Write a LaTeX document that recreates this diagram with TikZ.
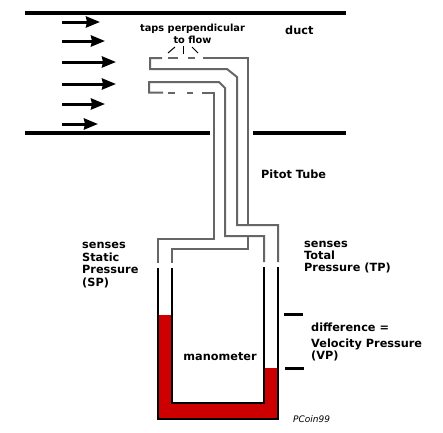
\documentclass[tikz,border=0pt]{standalone}
\usepackage{fontspec}
\setmainfont{DejaVu Sans}
\usetikzlibrary{arrows.meta}
\tikzset{
  duct/.style={line width=4pt,black},
  flow/.style={line width=3pt,black,-{Stealth[length=14pt,width=11pt,inset=1pt]}},
  tube/.style={line width=2pt,draw=black!60,line join=miter},
  tick/.style={line width=1pt,black},
  glass/.style={line width=2pt,black,line cap=butt},
  level/.style={line width=3pt,black},
  lab/.style={font=\bfseries\fontsize{11.3}{12.8}\selectfont,anchor=west,align=left,inner sep=0pt,text=black},
}
\begin{document}
\begin{tikzpicture}[x=1pt,y=-1pt]
\useasboundingbox[fill=white] (0,0) rectangle (443,432);
% duct
\draw[duct] (25,13) -- (346,13);
\draw[duct] (25,133) -- (210,133);
\draw[duct] (253,133) -- (346,133);
% flow arrows
\draw[flow] (62,22) -- (100,22);
\draw[flow] (62,41) -- (105,41);
\draw[flow] (62,62) -- (116,62);
\draw[flow] (62,84) -- (116,84);
\draw[flow] (62,104) -- (105,104);
\draw[flow] (62,124) -- (98,124);
% pitot tube, outer
\draw[tube] (162,58) -- (150,58) -- (150,69) -- (227,69) -- (237,77) -- (237,225) -- (278,225) -- (278,262);
\draw[tube] (203,58) -- (248,58) -- (248,225);
\draw[tube] (168,58) -- (178,58);
\draw[tube] (188,58) -- (195,58);
% pitot tube, inner
\draw[tube] (163,92.5) -- (149,92.5) -- (149,82) -- (219,82) -- (225,88) -- (225,236) -- (264,236) -- (264,262);
\draw[tube] (202,92.5) -- (214,92.5) -- (214,239) -- (158,239) -- (158,263);
\draw[tube] (168,92.5) -- (175,92.5);
\draw[tube] (187,92.5) -- (193,92.5);
\draw[tube] (248,236) -- (248,249) -- (172,249) -- (172,263);
% taps
\draw[tick] (168,53) -- (175,47);
\draw[tick] (183,46) -- (183,54);
\draw[tick] (192,47) -- (198,53);
% manometer fluid
\fill[fill={rgb,255:red,204;green,0;blue,0}] (158,315) -- (172,315) -- (172,403) -- (264,403) -- (264,368) -- (278,368) -- (278,419) -- (158,419) -- cycle;
% manometer glass
\draw[glass] (158,268) -- (158,419) -- (278,419) -- (278,267);
\draw[glass] (172,268) -- (172,403) -- (264,403) -- (264,267);
% level marks
\draw[level] (284,314) -- (303,314);
\draw[level] (285,368) -- (304,368);
% labels
\node[lab,anchor=center,align=center,font=\bfseries\fontsize{9.8}{12.5}\selectfont] (taps) at (192.5,34) {taps perpendicular\\to flow};
\node[lab] (ductlab) at (285,30) {duct};
\node[lab] (pitot) at (261,174) {Pitot Tube};
\node[lab] (static) at (82,265) {senses\\Static\\Pressure\\(SP)};
\node[lab,font=\bfseries\fontsize{11.3}{12.2}\selectfont] (total) at (304,257) {senses\\Total\\Pressure (TP)};
\node[lab] (diff) at (311,327) {difference =};
\node[lab] (vp) at (311,350) {Velocity Pressure\\(VP)};
\node[lab,anchor=center] (mano) at (220,357) {manometer};
\node[anchor=west,inner sep=0pt,font=\itshape\fontsize{9}{10}\selectfont] (sig) at (293,419) {PCoin99};
\end{tikzpicture}
\end{document}
